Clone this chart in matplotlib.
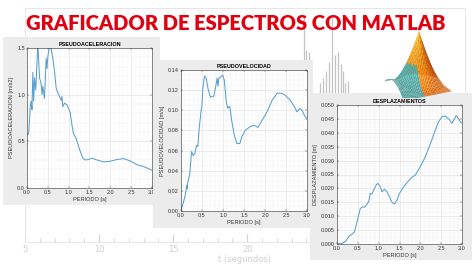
import numpy as np
import matplotlib
matplotlib.use("Agg")
import matplotlib.pyplot as plt
from matplotlib.ticker import MultipleLocator
from matplotlib.colors import LinearSegmentedColormap, LightSource

# ---- data ----
titulo = "GRAFICADOR DE ESPECTROS CON MATLAB"

# pseudoaceleracion [m/s2] vs periodo [s]
t_sa = [0, 0.04, 0.08, 0.10, 0.12, 0.14, 0.16, 0.18, 0.21, 0.26, 0.30, 0.34, 0.36, 0.38,
        0.42, 0.46, 0.48, 0.50, 0.54, 0.58, 0.62, 0.66, 0.70, 0.74, 0.78, 0.82, 0.84,
        0.86, 0.90, 0.96, 1.00, 1.04, 1.08, 1.12, 1.18, 1.28, 1.34, 1.40, 1.48, 1.56,
        1.68, 1.84, 2.00, 2.16, 2.32, 2.48, 2.64, 2.80, 3.00]
sa = [0.57, 0.58, 0.89, 0.93, 0.84, 1.24, 0.93, 1.18, 1.05, 1.55, 1.18, 1.12, 1.00, 1.09,
      0.96, 1.39, 1.28, 1.41, 1.52, 1.49, 1.39, 1.25, 1.07, 1.02, 0.98, 0.94, 0.98,
      0.87, 0.91, 0.89, 0.85, 0.80, 0.67, 0.58, 0.53, 0.39, 0.32, 0.30, 0.305, 0.32,
      0.30, 0.28, 0.287, 0.305, 0.315, 0.29, 0.25, 0.23, 0.19]

# pseudovelocidad [m/s]
t_sv = [0, 0.06, 0.10, 0.14, 0.15, 0.16, 0.18, 0.21, 0.25, 0.29, 0.33, 0.37, 0.40, 0.44,
        0.48, 0.50, 0.52, 0.56, 0.60, 0.64, 0.70, 0.78, 0.82, 0.86, 0.88, 0.90, 0.95,
        0.99, 1.03, 1.08, 1.11, 1.16, 1.21, 1.27, 1.33, 1.40, 1.45, 1.53, 1.65, 1.75,
        1.83, 1.93, 2.05, 2.17, 2.29, 2.39, 2.48, 2.60, 2.70, 2.76, 2.83, 2.88, 2.94, 3.00]
sv = [0, 0.009, 0.0156, 0.0255, 0.022, 0.028, 0.032, 0.037, 0.059, 0.055, 0.057, 0.065,
      0.064, 0.085, 0.100, 0.105, 0.122, 0.134, 0.132, 0.122, 0.113, 0.114, 0.122,
      0.132, 0.124, 0.132, 0.133, 0.135, 0.130, 0.108, 0.102, 0.104, 0.089, 0.075,
      0.067, 0.067, 0.074, 0.080, 0.084, 0.085, 0.083, 0.090, 0.0985, 0.110, 0.117,
      0.117, 0.115, 0.110, 0.1035, 0.0985, 0.102, 0.100, 0.095, 0.091]

# desplazamiento [m]
t_sd = [0, 0.12, 0.20, 0.28, 0.36, 0.42, 0.48, 0.52, 0.56, 0.62, 0.66, 0.72, 0.76, 0.80,
        0.84, 0.88, 0.94, 0.98, 1.04, 1.08, 1.14, 1.20, 1.26, 1.32, 1.38, 1.44, 1.50,
        1.60, 1.72, 1.80, 1.88, 2.00, 2.12, 2.24, 2.36, 2.44, 2.52, 2.60, 2.68, 2.76,
        2.82, 2.86, 2.92, 2.96, 3.00]
sd = [0, 0.0002, 0.0008, 0.0026, 0.0036, 0.0044, 0.008, 0.0104, 0.0128, 0.0134, 0.0132,
      0.0143, 0.0152, 0.0182, 0.018, 0.0194, 0.0212, 0.0218, 0.0206, 0.0188, 0.0197,
      0.0188, 0.017, 0.015, 0.0144, 0.0158, 0.0182, 0.0206, 0.0228, 0.024, 0.0248,
      0.0278, 0.0314, 0.036, 0.041, 0.044, 0.0458, 0.046, 0.045, 0.0434, 0.045,
      0.0462, 0.045, 0.044, 0.0434]

# faded background record (t in segundos)
bg_ticks = [5, 10, 15, 20]
pico_t = [23.8, 24.0, 24.15, 24.9, 25.1, 25.3, 25.5, 25.7, 25.9, 26.1, 26.3, 26.45, 26.6, 26.8]
pico_h = [0.97, 0.82, 0.81, 0.68, 0.70, 0.73, 0.77, 0.97, 0.80, 0.81, 0.76, 0.73, 0.68, 0.69]

W, H = 474, 266
fig = plt.figure(figsize=(W / 100, H / 100), dpi=100)
fig.patch.set_facecolor("white")


def box(x0, y0, x1, y1, **kw):
    # pixel box (top-left origin) -> axes
    return fig.add_axes([x0 / W, 1 - y1 / H, (x1 - x0) / W, (y1 - y0) / H], **kw)


# ---- faded background plot ----
bg = box(25, 8, 465, 242)
bg.set_xlim(5, 34.7)
bg.set_ylim(0, 1)
for s in bg.spines.values():
    s.set_color("#e2e2e2")
    s.set_linewidth(0.6)
bg.vlines(pico_t, 0.5, pico_h, color="#c4c4c4", lw=0.9)
bg.set_xticks(bg_ticks)
bg.xaxis.set_minor_locator(MultipleLocator(1))
bg.set_yticks([])
bg.tick_params(axis="x", which="major", colors="#d4d4d4", labelcolor="#cfcfcf",
               labelsize=6, length=6, direction="in", pad=2)
bg.tick_params(axis="x", which="minor", colors="#d4d4d4", length=3, direction="in")
bg.set_xlabel("t (segundos)", fontsize=6, color="#cfcfcf", labelpad=1)

line_c = "#5a9fd0"
FS = 4.0
FONT = "Liberation Sans"


def panel(win, ax_box, t, y, ylim, ystep, ymin, title, ylabel):
    g = box(*win)
    g.set_facecolor("#ececec")
    g.set_xticks([])
    g.set_yticks([])
    for s in g.spines.values():
        s.set_visible(False)
    ax = box(*ax_box)
    ax.set_facecolor("white")
    ax.plot(t, y, color=line_c, lw=0.75)
    ax.set_xlim(0, 3)
    ax.set_ylim(*ylim)
    ax.xaxis.set_major_locator(MultipleLocator(0.5))
    ax.xaxis.set_minor_locator(MultipleLocator(0.1))
    ax.yaxis.set_major_locator(MultipleLocator(ystep))
    ax.yaxis.set_minor_locator(MultipleLocator(ymin))
    ax.grid(which="major", color="#dedede", lw=0.4)
    ax.grid(which="minor", color="#efefef", lw=0.3)
    ax.set_axisbelow(True)
    ax.tick_params(which="both", direction="in", top=True, right=True, length=1.5,
                   width=0.3, labelsize=FS, pad=1.5, colors="#333333")
    ax.tick_params(which="minor", length=0)
    for lab in ax.get_xticklabels() + ax.get_yticklabels():
        lab.set_family(FONT)
    for s in ax.spines.values():
        s.set_color("#333333")
        s.set_linewidth(0.4)
    ax.set_title(title, fontsize=3.9, fontweight="bold", pad=1.5, family=FONT)
    ax.set_xlabel("PERIODO [s]", fontsize=4.1, labelpad=1.5, family=FONT, color="#333333")
    ax.set_ylabel(ylabel, fontsize=4.1, labelpad=2, family=FONT, color="#333333")
    return ax


ax1 = panel((3, 37, 160, 205), (27, 48, 152, 188), t_sa, sa, (0, 1.5), 0.5, 0.1,
            "PSEUDOACELERACION", "PSEUDOACELERACION [m/s2]")
ax2 = panel((153, 60, 313, 228), (181, 70, 307, 211), t_sv, sv, (0, 0.14), 0.02, 0.005,
            "PSEUDOVELOCIDAD", "PSEUDOVELOCIDAD [m/s]")
ax3 = panel((310, 93, 472, 260), (337, 105, 462, 244), t_sd, sd, (0, 0.05), 0.005, 0.001,
            "DESPLAZAMIENTOS", "DESPLAZAMIENTO [m]")

# ---- MATLAB-like membrane logo ----
lg = fig.add_axes([366 / W, 1 - 98 / H, 100 / W, 74 / H], projection="3d")
u = np.linspace(-1, 1, 60)
X, Y = np.meshgrid(u, u)
R = np.sqrt((X - 0.15) ** 2 + (Y - 0.15) ** 2)
Z = np.clip(1 - R, 0, None) ** 1.5 + 0.18 * np.clip(-X, 0, None) * (1 - Y ** 2)
cm = LinearSegmentedColormap.from_list("m", ["#4a1200", "#b03a00", "#f08010", "#ffd040"])
ls = LightSource(azdeg=300, altdeg=35)
shade = ls.hillshade(Z, vert_exag=3)
cols = cm(shade)
teal = np.array(matplotlib.colors.to_rgba("#5bc0bb"))
mask = (X < -0.15) & (Z < 0.4)
cols[mask] = teal * (0.6 + 0.4 * shade[mask][:, None])
cols[..., 3] = 1
lg.plot_surface(X, Y, Z, facecolors=cols, linewidth=0, antialiased=True, shade=False)
lg.view_init(elev=20, azim=-115)
lg.set_box_aspect((1, 1, 1.0), zoom=1.35)
lg.set_axis_off()
lg.patch.set_alpha(0)

# ---- big red title, sized to span x 25..447 px ----
tt = fig.text(236 / W, 1 - 23 / H, titulo, ha="center", va="center", color="#e0000f",
              fontsize=16, fontweight="heavy", family="Lato")
r = fig.canvas.get_renderer()
w = tt.get_window_extent(r).width
tt.set_fontsize(16 * 422 / w)

fig.savefig("out.png", dpi=100)
